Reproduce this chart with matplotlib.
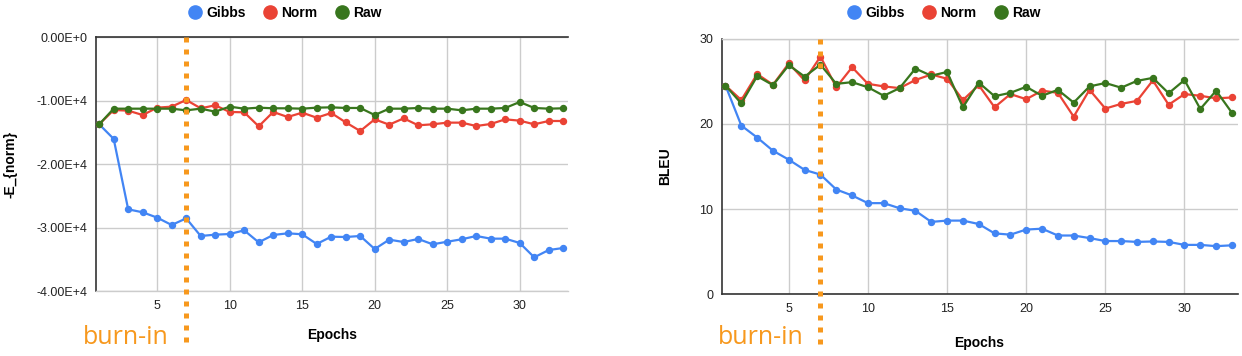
import matplotlib
matplotlib.use("Agg")
import matplotlib.pyplot as plt
import matplotlib.transforms as mtransforms
from matplotlib.lines import Line2D
import numpy as np

epochs = list(range(1, 34))

energy_gibbs = [-13700, -16000, -27090, -27560, -28400, -29560, -28510, -31290, -31080, -30980,
                -30400, -32290, -31130, -30870, -31020, -32550, -31400, -31450, -31290, -33340,
                -31870, -32240, -31760, -32600, -32190, -31810, -31290, -31710, -31710, -32390,
                -34650, -33500, -33180]
energy_norm = [-13700, -11450, -11550, -12240, -11080, -10920, -9870, -11180, -10710, -11760,
               -11810, -14020, -11760, -12550, -11870, -12660, -11920, -13390, -14760, -12920,
               -13760, -12760, -13860, -13700, -13440, -13440, -13970, -13650, -12920, -13130,
               -13700, -13180, -13180]
energy_raw = [-13700, -11240, -11240, -11240, -11240, -11240, -11500, -11240, -11710, -10920,
              -11240, -11080, -11180, -11180, -11240, -11080, -11030, -11130, -11130, -12240,
              -11240, -11240, -11130, -11240, -11240, -11500, -11240, -11240, -11130, -10190,
              -11130, -11240, -11180]

bleu_gibbs = [24.5, 19.8, 18.4, 16.85, 15.8, 14.6, 14.05, 12.3, 11.6, 10.7,
              10.7, 10.1, 9.8, 8.5, 8.65, 8.65, 8.25, 7.15, 7.0, 7.6,
              7.7, 6.9, 6.9, 6.6, 6.25, 6.25, 6.15, 6.2, 6.15, 5.8,
              5.8, 5.65, 5.75]
bleu_norm = [24.5, 22.8, 25.85, 24.6, 27.1, 25.1, 27.9, 24.3, 26.65, 24.7,
             24.4, 24.2, 25.15, 25.8, 25.3, 22.8, 24.55, 21.95, 23.5, 22.9,
             23.9, 23.65, 20.85, 24.0, 21.8, 22.35, 22.7, 25.1, 22.25, 23.5,
             23.3, 23.0, 23.1]
bleu_raw = [24.5, 22.4, 25.6, 24.55, 26.9, 25.55, 26.95, 24.7, 24.9, 24.3,
            23.3, 24.2, 26.5, 25.65, 26.1, 21.95, 24.85, 23.25, 23.65, 24.35,
            23.3, 24.0, 22.5, 24.4, 24.8, 24.25, 25.05, 25.4, 23.6, 25.15,
            21.75, 23.9, 21.3]

series_names = ["Gibbs", "Norm", "Raw"]
series_colors = ["#4285F4", "#EA4335", "#38761D"]
burn_in_epoch = 7
x_ticks = [5, 10, 15, 20, 25, 30]
energy_ticks = [0, -10000, -20000, -30000, -40000]
energy_tick_labels = ["0.00E+0", "-1.00E+4", "-2.00E+4", "-3.00E+4", "-4.00E+4"]
bleu_ticks = [0, 10, 20, 30]

plt.rcParams['font.family'] = ['Liberation Sans', 'DejaVu Sans']

W, H = 1242, 356
fig = plt.figure(figsize=(W / 100, H / 100), dpi=100)

def frac(l, r, t, b):
    return [l / W, 1 - b / H, (r - l) / W, (b - t) / H]

ax1 = fig.add_axes(frac(95.7, 568.3, 37.3, 291.3))
ax2 = fig.add_axes(frac(721.7, 1237.5, 38.7, 294.3))

orange = "#F7981D"
grid_c = "#CCCCCC"

def style(ax, ylim, yticks, ylabels, zero_at_top):
    ax.set_xlim(0.76, 33.35)
    ax.set_ylim(*ylim)
    ax.set_xticks(x_ticks)
    ax.set_yticks(yticks)
    if ylabels is not None:
        ax.set_yticklabels(ylabels)
    ax.grid(True, color=grid_c, linewidth=1.0)
    ax.set_axisbelow(True)
    ax.spines["right"].set_visible(False)
    ax.spines["left"].set_color("#333333")
    ax.spines["left"].set_linewidth(1.2)
    if zero_at_top:
        ax.spines["top"].set_color("#333333")
        ax.spines["top"].set_linewidth(1.2)
        ax.spines["bottom"].set_color(grid_c)
        ax.spines["bottom"].set_linewidth(1.0)
    else:
        ax.spines["bottom"].set_color("#333333")
        ax.spines["bottom"].set_linewidth(1.2)
        ax.spines["top"].set_color(grid_c)
        ax.spines["top"].set_linewidth(1.0)
    ax.tick_params(length=0, labelsize=9, colors="#222222", pad=6)
    ax.set_xlabel("Epochs", fontsize=10, fontweight="bold")

def draw(ax, ys):
    for y, c, n in zip(ys, series_colors, series_names):
        ax.plot(epochs, y, color=c, linewidth=1.6, marker="o", markersize=4.3,
                label=n, zorder=3, clip_on=False)

draw(ax1, [energy_gibbs, energy_norm, energy_raw])
draw(ax2, [bleu_gibbs, bleu_norm, bleu_raw])

style(ax1, (-40000, 0), energy_ticks, energy_tick_labels, True)
style(ax2, (0, 30), bleu_ticks, None, False)
ax1.set_ylabel("-E_{norm}", fontsize=10, fontweight="bold")
ax2.set_ylabel("BLEU", fontsize=10, fontweight="bold")
ax1.xaxis.set_label_coords(0.5, -0.145)
ax2.xaxis.set_label_coords(0.5, -0.165)
ax1.yaxis.set_label_coords(-0.165, 0.5)
ax2.yaxis.set_label_coords(-0.096, 0.5)

for ax, ytop_px, ybot_px in [(ax1, 37.3, 291.3), (ax2, 38.7, 294.3)]:
    trans = mtransforms.blended_transform_factory(ax.transData, ax.transAxes)
    span = ybot_px - ytop_px
    y_end = (ybot_px - 349) / span
    ax.plot([burn_in_epoch, burn_in_epoch], [1, y_end], transform=trans,
            color=orange, linewidth=3.6, dashes=(1.0, 1.4), solid_capstyle="butt",
            dash_capstyle="butt", clip_on=False, zorder=5)

fig.text(126 / W, 1 - 337 / H, "burn-in", color=orange, fontsize=18,
         family=["Open Sans", "DejaVu Sans"], ha="center", va="center")
fig.text(761 / W, 1 - 338 / H, "burn-in", color=orange, fontsize=18,
         family=["Open Sans", "DejaVu Sans"], ha="center", va="center")

handles = [Line2D([], [], linestyle="none", marker="o", markersize=9.5, color=c)
           for c in series_colors]
for cx in [285 / W, 944 / W]:
    fig.legend(handles, series_names, loc="center", bbox_to_anchor=(cx, 1 - 13 / H),
               ncol=3, frameon=False, handlelength=0.9, handletextpad=0.35,
               columnspacing=1.3, prop={"weight": "bold", "size": 10})

fig.savefig("out.png", dpi=100)
